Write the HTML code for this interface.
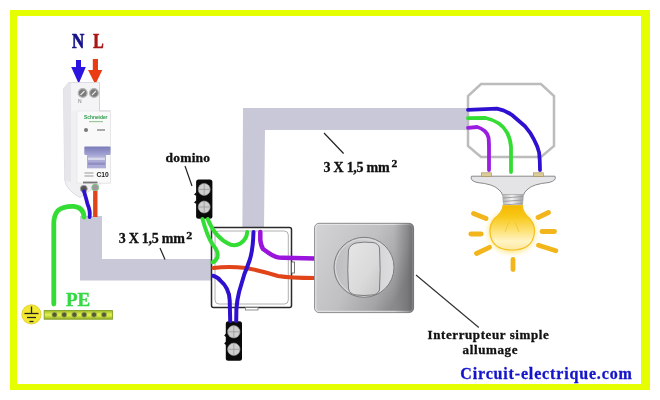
<!DOCTYPE html>
<html><head><meta charset="utf-8">
<style>
html,body{margin:0;padding:0;background:#fff;width:660px;height:400px;overflow:hidden}
svg{display:block;will-change:transform}
text{font-family:"Liberation Serif",serif;font-weight:bold}
.hv{stroke:#111;stroke-width:0.3}
</style></head>
<body>
<svg width="660" height="400" viewBox="0 0 660 400">
<defs>
  <linearGradient id="plate" x1="0" y1="0" x2="1" y2="0.5">
    <stop offset="0" stop-color="#d4d4d6"/>
    <stop offset="0.55" stop-color="#c0c0c2"/>
    <stop offset="0.85" stop-color="#a4a4a6"/>
    <stop offset="1" stop-color="#8a8a8c"/>
  </linearGradient>
  <linearGradient id="plateR" x1="0" y1="0" x2="1" y2="0">
    <stop offset="0.8" stop-color="#6a6a6c" stop-opacity="0"/>
    <stop offset="0.94" stop-color="#606062" stop-opacity="0.45"/>
    <stop offset="1" stop-color="#505052" stop-opacity="0.7"/>
  </linearGradient>
  <linearGradient id="circ" x1="0" y1="0" x2="1" y2="0">
    <stop offset="0" stop-color="#bdbdbf"/>
    <stop offset="1" stop-color="#dedee0"/>
  </linearGradient>
  <linearGradient id="rock" x1="0" y1="0" x2="1" y2="1">
    <stop offset="0" stop-color="#e6e6e6"/>
    <stop offset="0.6" stop-color="#dadada"/>
    <stop offset="1" stop-color="#c6c6c6"/>
  </linearGradient>
  <linearGradient id="bulb" x1="0" y1="0" x2="0" y2="1">
    <stop offset="0" stop-color="#f4b800"/>
    <stop offset="0.25" stop-color="#f8c818"/>
    <stop offset="0.55" stop-color="#fde070"/>
    <stop offset="0.8" stop-color="#fff4c4"/>
    <stop offset="1" stop-color="#fde8a0"/>
  </linearGradient>
  <radialGradient id="glow" cx="0.5" cy="0.5" r="0.5">
    <stop offset="0.7" stop-color="#ffe070" stop-opacity="0.8"/>
    <stop offset="1" stop-color="#fff8d0" stop-opacity="0"/>
  </radialGradient>
  <linearGradient id="tog" x1="0" y1="0" x2="0" y2="1">
    <stop offset="0" stop-color="#7a7ab8"/>
    <stop offset="1" stop-color="#a4a4d4"/>
  </linearGradient>
  <linearGradient id="screw" x1="0" y1="0" x2="1" y2="0">
    <stop offset="0" stop-color="#b4b4b6"/>
    <stop offset="0.45" stop-color="#f2f2f2"/>
    <stop offset="1" stop-color="#a0a0a2"/>
  </linearGradient>
  <linearGradient id="bar" x1="0" y1="0" x2="0" y2="1">
    <stop offset="0" stop-color="#a0bc2a"/>
    <stop offset="0.5" stop-color="#e4f44c"/>
    <stop offset="1" stop-color="#98b228"/>
  </linearGradient>
</defs>

<!-- yellow frame -->
<rect x="13.5" y="13" width="632" height="374" fill="none" stroke="#e6ff00" stroke-width="0"/>
<path d="M10 10H650V390H10Z M17 16V384H641V16Z" fill="#e6ff00" fill-rule="evenodd"/>

<!-- ducts -->
<g fill="#c8c8d8">
  <path d="M80 216H102V259H211V280.5H80Z"/>
  <path d="M242.4 228L243 108H467V130H265L264 228Z"/>
</g>

<!-- N L -->
<text x="72" y="47.8" font-size="20.5" fill="#16128c" stroke="#16128c" stroke-width="0.7" textLength="12.3" lengthAdjust="spacingAndGlyphs">N</text>
<text x="93.3" y="47.8" font-size="20.5" fill="#a81616" stroke="#a81616" stroke-width="0.7" textLength="10.5" lengthAdjust="spacingAndGlyphs">L</text>
<path d="M76 60H81V67H85.8L78.7 83.8L71.2 67H76Z" fill="#2c14e0"/>
<path d="M92.8 59H98V70H102.3L95.3 84.5L88 70H92.8Z" fill="#ea3c12"/>

<!-- breaker -->
<g>
  <path d="M63.5 89L68.5 82.5H99.5V111H110.5V183H101L80 197.5Q66 190 64.7 180Z" fill="#f0f0f2" stroke="#d6d6da" stroke-width="0.8"/>
  <path d="M63.5 89L68.5 82.5H71V182L64.7 180Z" fill="#e6e6ea"/>
  <rect x="71" y="83" width="28.5" height="28" fill="#f4f4f6"/>
  <rect x="77" y="111" width="33.5" height="72" fill="#f9f9fa" stroke="#e4e4e8" stroke-width="0.6"/>
  <path d="M99.5 83V111H110.5" fill="none" stroke="#d0d0d4" stroke-width="0.8"/>
  <circle cx="82.7" cy="93" r="4.4" fill="#7a7a7a" stroke="#b4b4b4" stroke-width="1.3"/>
  <circle cx="94" cy="93" r="4.4" fill="#7a7a7a" stroke="#b4b4b4" stroke-width="1.3"/>
  <path d="M80.5 95L84.5 91M92 95L96 91" stroke="#e8e8e8" stroke-width="1.1"/>
  <text x="78" y="103" font-size="5" fill="#777" style="font-family:'Liberation Sans';font-weight:normal">N</text>
  <text x="84" y="119.2" font-size="6.2" fill="#2a9a48" style="font-family:'Liberation Sans'" textLength="23.5" lengthAdjust="spacingAndGlyphs">Schneider</text>
  <rect x="89" y="121" width="14" height="1.2" fill="#9c9"/>
  <circle cx="86" cy="130" r="2" fill="#777"/>
  <rect x="97" y="129" width="8" height="2" fill="#aaa"/>
  <rect x="84.3" y="146.4" width="26.2" height="8.6" fill="url(#tog)" rx="1"/>
  <rect x="87" y="155" width="19" height="13.3" fill="#acacd6"/>
  <rect x="88" y="157.5" width="17" height="2.5" fill="#d8d8ec"/>
  <rect x="88" y="162.5" width="17" height="2.5" fill="#9090c4"/>
  <rect x="84.5" y="172" width="9" height="2" fill="#c8c8c8"/>
  <rect x="84.5" y="175" width="9" height="2" fill="#c8c8c8"/>
  <text x="96.5" y="177.2" font-size="7" fill="#222" style="font-family:'Liberation Sans'" textLength="12.3" lengthAdjust="spacingAndGlyphs">C10</text>
  <rect x="83" y="181.6" width="14.5" height="1.8" fill="#777"/>
  <circle cx="83.8" cy="188.8" r="3.5" fill="#555" stroke="#aaa" stroke-width="0.8"/>
  <circle cx="95.2" cy="187.6" r="3.5" fill="#9a9a9a" stroke="#8c8" stroke-width="0.8"/>
</g>

<!-- breaker wires -->
<path d="M84 191.5Q85.5 196 87.5 204Q90.5 211 89.6 217" fill="none" stroke="#3010d0" stroke-width="3.8" stroke-linecap="round"/>
<path d="M95.3 191V217" fill="none" stroke="#e04418" stroke-width="4.4"/>
<path d="M84 217Q83.5 207 73.5 206.3Q63 206 58 210.5Q54 215 53.8 223V304" fill="none" stroke="#33dd33" stroke-width="4.8" stroke-linecap="round"/>

<!-- earth -->
<circle cx="31.4" cy="314.4" r="9.6" fill="#f2e830" stroke="#e0c828" stroke-width="0.8"/>
<g stroke="#222" stroke-width="1.3">
  <path d="M31.5 306.5V313"/>
  <path d="M24.5 313.5H38.5"/>
  <path d="M27 317.5H36"/>
  <path d="M29.5 321.5H33.5"/>
</g>
<rect x="44.2" y="310.6" width="68.2" height="8.6" fill="url(#bar)" stroke="#7e9c22" stroke-width="0.9"/>
<g fill="#505a34" stroke="#a8b850" stroke-width="0.8">
  <circle cx="54.5" cy="314.7" r="2.6"/><circle cx="64.2" cy="314.7" r="2.6"/><circle cx="74.4" cy="314.7" r="2.6"/>
  <circle cx="84.2" cy="314.7" r="2.6"/><circle cx="94" cy="314.7" r="2.6"/><circle cx="104" cy="314.7" r="2.6"/>
</g>
<text x="66" y="306" font-size="19" fill="#36d846" stroke="#36d846" stroke-width="0.4">PE</text>

<!-- labels -->
<text x="118.7" y="242.7" class="hv" font-size="14" fill="#111" textLength="66.2" lengthAdjust="spacing">3 X 1,5 mm</text><text x="186.2" y="238.6" class="hv" font-size="9.5" fill="#111" textLength="6" lengthAdjust="spacingAndGlyphs">2</text>
<path d="M160 248L165 259.5" stroke="#222" stroke-width="1.2"/>
<text x="323.6" y="171.7" class="hv" font-size="14" fill="#111" textLength="66" lengthAdjust="spacing">3 X 1,5 mm</text><text x="391.6" y="167" class="hv" font-size="9.5" fill="#111" textLength="5.8" lengthAdjust="spacingAndGlyphs">2</text>
<path d="M324 133L343.6 153.5" stroke="#222" stroke-width="1.2"/>
<text x="165.6" y="162" class="hv" font-size="13.5" fill="#111" textLength="44.4" lengthAdjust="spacing">domino</text>
<path d="M185 166L192 186" stroke="#222" stroke-width="1.2"/>

<!-- switch box -->
<rect x="211.5" y="227.5" width="80" height="80" rx="2" fill="#fff" stroke="#2a2a2a" stroke-width="1.5"/>
<rect x="215" y="231" width="73.3" height="73" rx="4" fill="none" stroke="#b0b0b0" stroke-width="1"/>
<rect x="291.5" y="262" width="3" height="11" fill="#fff" stroke="#555" stroke-width="0.8"/>
<rect x="245.5" y="307.5" width="12.5" height="2.5" fill="#fff" stroke="#777" stroke-width="0.8"/>
<!-- duct top overlay on box top -->

<!-- top domino -->
<rect x="196.1" y="179.4" width="16.3" height="39.3" rx="2.5" fill="#0a0a0a"/>
<path d="M196.5 192L194 194.5L196.5 196ZM196.5 200L194 202.5L196.5 204Z" fill="#0a0a0a"/>
<circle cx="204.2" cy="189.4" r="6" fill="#cfcfcf" stroke="#999" stroke-width="0.6"/>
<circle cx="204.2" cy="207" r="6" fill="#cfcfcf" stroke="#999" stroke-width="0.6"/>
<g stroke="#888" stroke-width="0.6"><path d="M198.5 189.4H210M204.2 183.7V195.1M198.5 207H210M204.2 201.3V212.7"/></g>

<!-- bottom domino -->
<rect x="225.8" y="321.3" width="16.2" height="39.4" rx="2.5" fill="#0a0a0a"/>
<path d="M226 333.5L224.2 335.5L226 337ZM226 341.5L224.2 343.5L226 345Z" fill="#0a0a0a"/>
<circle cx="233.8" cy="331.8" r="6.2" fill="#cfcfcf" stroke="#999" stroke-width="0.6"/>
<circle cx="233.8" cy="349.3" r="6.2" fill="#cfcfcf" stroke="#999" stroke-width="0.6"/>
<g stroke="#888" stroke-width="0.6"><path d="M227.8 331.8H239.8M233.8 325.8V337.8M227.8 349.3H239.8M233.8 343.3V355.3"/></g>

<!-- wires in box -->
<g fill="none" stroke-width="4" stroke-linecap="round" stroke-linejoin="round">
  <path d="M202.5 219C205 228 208 238 213 245C218 251 218.5 255 217 258C215.5 261 214 262 212.5 262.3" stroke="#33dd33"/>
  <path d="M207.7 219C212 230 220 240 230 244.5C238 247 244 242 246.5 236L247.2 232" stroke="#33dd33"/>
  <path d="M260.3 232V240Q261 246 263 249L268 252.5Q272 255.5 276 256.8Q279 257.8 283 257.8L315 258.5" stroke="#9a14dc" stroke-width="4.5"/>
  <path d="M213.5 268Q228 266 246 268Q262 271 278 276Q290 278 315 278" stroke="#e04418"/>
  <path d="M213 275.8Q217 276.5 220.8 281Q224.5 284 226.9 288.9Q229.5 294 229.7 300.3L230.2 321" stroke="#3010d0"/>
  <path d="M253.5 232Q253 250 249.7 260Q247 268 244.4 274L239.2 291.5Q237 300 236.4 309L236.2 321" stroke="#3010d0"/>
</g>

<!-- light box octagon -->
<path d="M481 84H541L554 96V146L541 157H481L468 146V96Z" fill="none" stroke="#bcbcbc" stroke-width="2.5"/>
<g fill="none" stroke-width="3.8" stroke-linecap="round" stroke-linejoin="round">
  <path d="M468 109.8L497 108.6Q505 110 512 115L525 126.3Q531 133 534.4 140.3Q538 147 539.1 152.5Q540 160 540 170" stroke="#3010d0"/>
  <path d="M468 118.2L485.6 118Q493 119.5 499 123.5Q504 127 507.2 132.8Q510.5 139 511 147V172" stroke="#33dd33"/>
  <path d="M468 127.8L477.2 127Q481 128 484.7 131Q487.5 133.5 488.5 137.5Q489 141 489 148V170" stroke="#9a1ee0"/>
</g>

<!-- bulb holder -->
<path d="M471.5 176.2H555Q557 180.5 549 182.5Q533 184 528 189Q524 192 523.5 195H502.5Q502 192 498 189Q493 184 477 182.5Q469.5 180.5 471.5 176.2Z" fill="#e4e4e6" stroke="#8a8a8a" stroke-width="1"/>
<rect x="481.5" y="172.8" width="10" height="3.8" fill="#dccc98" stroke="#a08c58" stroke-width="0.6"/>
<rect x="533.4" y="172.8" width="10" height="3.8" fill="#dccc98" stroke="#a08c58" stroke-width="0.6"/>
<path d="M502.5 194.5H523.5L522.5 206H503.5Z" fill="url(#screw)" stroke="#a8a8a8" stroke-width="0.6"/>
<g stroke="#9a9a9a" stroke-width="0.9"><path d="M503 198L523 196.5M503 201.5L523 200M503.5 205L522.5 203.5"/></g>

<!-- bulb -->
<ellipse cx="512" cy="232" rx="29" ry="26" fill="url(#glow)"/>
<path d="M503 205.5Q502.5 212 495 218Q489.5 224 490 232Q491 250 512 250Q533 250 534.5 232Q535 224 529 218Q522.5 212 522.5 205.5Z" fill="url(#bulb)" stroke="#f4c020" stroke-width="1.2"/>
<path d="M505 232L509 222M519 232L515 222" stroke="#f0c030" stroke-width="1" opacity="0.7"/>
<g stroke="#f2b61c" stroke-width="4.8" stroke-linecap="round" fill="none">
  <path d="M473.5 213.5L486 218.5"/>
  <path d="M470.8 234H481.2"/>
  <path d="M476.5 253.5L489.5 247.3"/>
  <path d="M513 259.5V269.5"/>
  <path d="M538 217.5L548.5 212.5"/>
  <path d="M542 231.5H554.5"/>
  <path d="M538.5 245.3L555.8 250.8"/>
</g>

<!-- switch plate -->
<rect x="314.6" y="223.3" width="99" height="89.3" rx="4.5" fill="url(#plate)" stroke="#8e8e90" stroke-width="1"/>
<rect x="315.8" y="224.5" width="96.6" height="86.9" rx="3.5" fill="none" stroke="#e8e8ea" stroke-width="1.2" opacity="0.8"/>
<rect x="314.6" y="223.3" width="99" height="89.3" rx="4.5" fill="url(#plateR)"/>
<circle cx="364" cy="267.3" r="30" fill="url(#circ)" stroke="#7e7e80" stroke-width="1"/>
<circle cx="364" cy="267.3" r="28.5" fill="none" stroke="#dcdcde" stroke-width="1"/>
<path d="M348.5 250Q350 244.5 356 243Q364 241.5 373 242.5Q378.5 243.5 379.5 248Q380.8 270 379.5 290Q378 294.5 372 295Q364 296 356 295Q349.5 294 348.5 289Q347 270 348.5 250Z" fill="url(#rock)" stroke="#727274" stroke-width="0.9"/>

<!-- interrupteur label -->
<path d="M416 275L478.8 327.5" stroke="#333" stroke-width="1.2"/>
<text x="427.5" y="338.6" class="hv" font-size="13" fill="#111" textLength="121.3" lengthAdjust="spacing">Interrupteur simple</text>
<text x="462.5" y="353.8" class="hv" font-size="13" fill="#111" textLength="55" lengthAdjust="spacing">allumage</text>

<text x="460.3" y="379" font-size="16" fill="#1414c8" stroke="#1414c8" stroke-width="0.3" textLength="171.5" lengthAdjust="spacing">Circuit-electrique.com</text>
</svg>
</body></html>
